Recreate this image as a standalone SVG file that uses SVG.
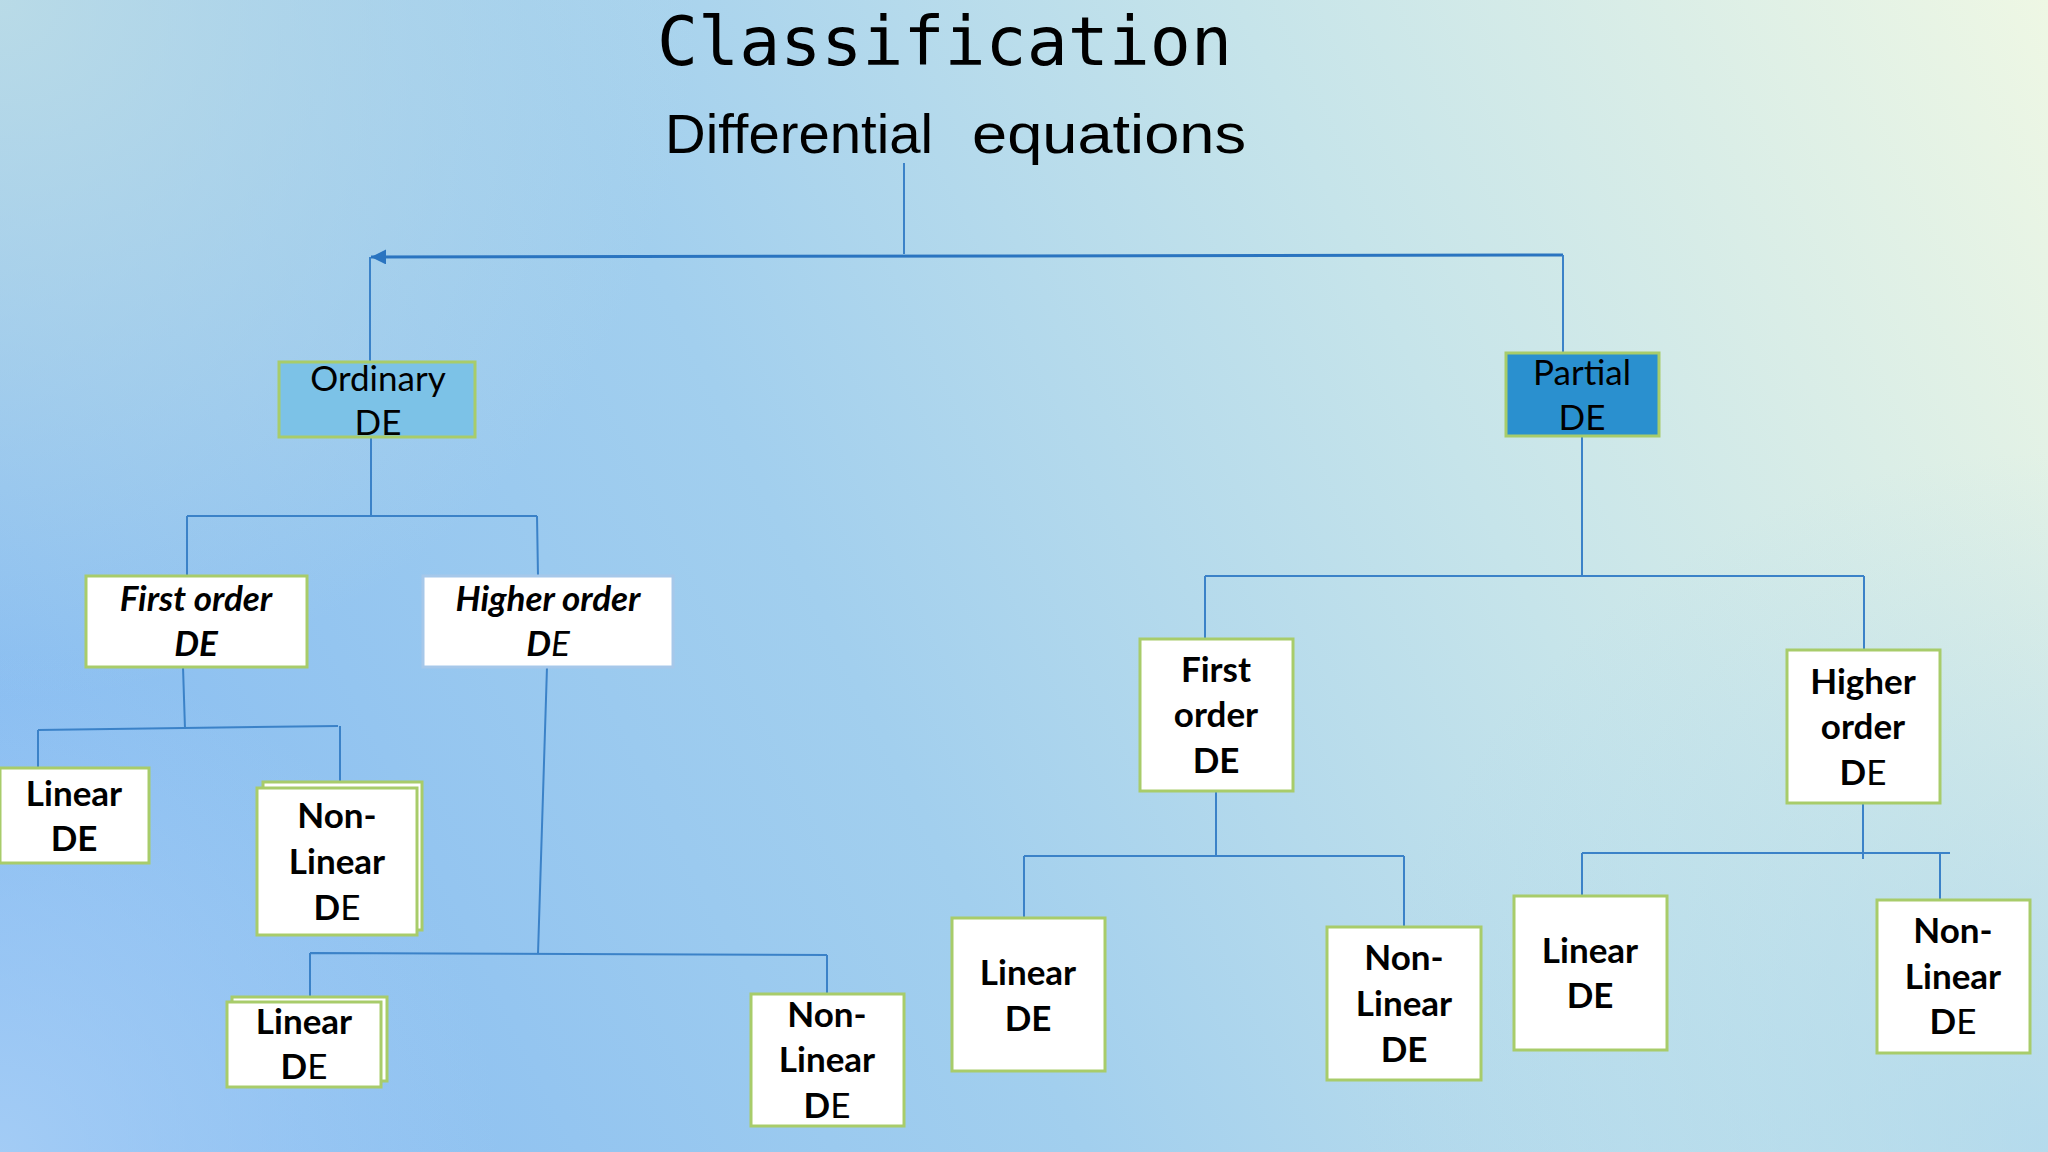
<svg xmlns="http://www.w3.org/2000/svg" width="2048" height="1152" viewBox="0 0 2048 1152">
<defs>
<linearGradient id="bg" gradientUnits="userSpaceOnUse" x1="0" y1="1000" x2="2048" y2="0">
<stop offset="0" stop-color="#86bbf2"/>
<stop offset="0.4" stop-color="#a2cfee"/>
<stop offset="0.68" stop-color="#c6e4ea"/>
<stop offset="1" stop-color="#eef7e4"/>
</linearGradient>
<radialGradient id="tl" gradientUnits="userSpaceOnUse" cx="0" cy="0" r="700">
<stop offset="0" stop-color="#bddde6" stop-opacity="0.9"/>
<stop offset="1" stop-color="#bddde6" stop-opacity="0"/>
</radialGradient>
<radialGradient id="bl" gradientUnits="userSpaceOnUse" cx="0" cy="1152" r="500">
<stop offset="0" stop-color="#aad0f6" stop-opacity="0.8"/>
<stop offset="1" stop-color="#aad0f6" stop-opacity="0"/>
</radialGradient>
<radialGradient id="br" gradientUnits="userSpaceOnUse" cx="2048" cy="1152" r="700">
<stop offset="0" stop-color="#a8d4ee" stop-opacity="0.7"/>
<stop offset="1" stop-color="#a8d4ee" stop-opacity="0"/>
</radialGradient>
<marker id="arr" viewBox="0 0 10 10" refX="10" refY="5" markerWidth="5" markerHeight="5" orient="auto" markerUnits="strokeWidth">
<path d="M0,0 L10,5 L0,10 z" fill="#2a74c0"/>
</marker>
</defs>
<style>
.c{fill:none;stroke:#3b82c8;stroke-width:2}
.top{fill:none;stroke:#2a74c0;stroke-width:3}
.box{fill:#ffffff;stroke:#a8cc6a;stroke-width:3}
.boxb{fill:#ffffff;stroke:#a6c8ea;stroke-width:3}
.t{font-family:Lato,"Open Sans",sans-serif;font-size:35px;font-weight:700;fill:#000;text-anchor:middle}
.i{font-style:italic}
.n{font-weight:400}
.title{font-family:"DejaVu Sans Mono","Liberation Mono",monospace;font-size:68px;fill:#000}
.sub{font-family:"Liberation Sans",Arial,sans-serif;font-size:56px;fill:#000}
</style>
<rect x="0" y="0" width="2048" height="1152" fill="url(#bg)"/>
<rect x="0" y="0" width="2048" height="1152" fill="url(#tl)"/>
<rect x="0" y="0" width="2048" height="1152" fill="url(#bl)"/>
<rect x="0" y="0" width="2048" height="1152" fill="url(#br)"/>

<g id="title">
<text class="title" x="657" y="65" textLength="575" lengthAdjust="spacingAndGlyphs">Classification</text>
<text class="sub" x="665" y="153" textLength="268" lengthAdjust="spacingAndGlyphs">Differential</text>
<text class="sub" x="972" y="153" textLength="274" lengthAdjust="spacingAndGlyphs">equations</text>
</g>

<g id="connectors">
<path class="c" d="M904,163 V254"/>
<path class="top" d="M1563,255 L371,257" marker-end="url(#arr)"/>
<path class="c" d="M370,257 V362"/>
<path class="c" d="M1563,255 V353"/>
<path class="c" d="M371,437 V516 M187,516 H537 M187,516 V576 M537,516 L538,576"/>
<path class="c" d="M183,667 L185,729 M38,730 L338,726 M38,730 V768 M340,726 V784"/>
<path class="c" d="M547,667 L538,954 M310,953 L827,955 M310,953 V998 M827,955 V994"/>
<path class="c" d="M1582,436 V576 M1205,576 H1864 M1205,576 V639 M1864,576 V650"/>
<path class="c" d="M1216,791 V856 M1024,856 H1404 M1024,856 V918 M1404,856 V927"/>
<path class="c" d="M1863,803 V859 M1582,853 H1950 M1582,853 V896 M1940,853 V900"/>
</g>

<g id="ordinary">
<rect x="279" y="362" width="196" height="75" fill="#7cc2e7" stroke="#a8cc6a" stroke-width="3"/>
<text class="t n" x="378" y="391">Ordinary</text>
<text class="t n" x="378" y="435">DE</text>
</g>

<g id="partial">
<rect x="1506" y="353" width="153" height="83" fill="#2a90cf" stroke="#a8cc6a" stroke-width="3"/>
<text class="t n" x="1582" y="385">Partial</text>
<text class="t n" x="1582" y="430">DE</text>
</g>

<g id="ode-first">
<rect class="box" x="86" y="576" width="221" height="91"/>
<text class="t i" x="196" y="611">First order</text>
<text class="t i" x="196" y="656">DE</text>
</g>

<g id="ode-higher">
<rect class="boxb" x="423" y="576" width="250" height="91"/>
<text class="t i" x="548" y="611">Higher order</text>
<text class="t i" x="548" y="656">D<tspan class="n">E</tspan></text>
</g>

<g id="ode-first-linear">
<rect class="box" x="0" y="768" width="149" height="95"/>
<text class="t" x="74" y="806">Linear</text>
<text class="t" x="74" y="851">DE</text>
</g>

<g id="ode-first-nonlinear">
<rect class="box" x="263" y="782" width="159" height="148"/>
<rect class="box" x="257" y="788" width="160" height="147"/>
<text class="t" x="337" y="828">Non-</text>
<text class="t" x="337" y="874">Linear</text>
<text class="t" x="337" y="920">D<tspan class="n">E</tspan></text>
</g>

<g id="ode-higher-linear">
<rect class="box" x="232" y="997" width="155" height="84"/>
<rect class="box" x="227" y="1002" width="154" height="85"/>
<text class="t" x="304" y="1034">Linear</text>
<text class="t" x="304" y="1079">D<tspan class="n">E</tspan></text>
</g>

<g id="ode-higher-nonlinear">
<rect class="box" x="751" y="994" width="153" height="132"/>
<text class="t" x="827" y="1027">Non-</text>
<text class="t" x="827" y="1072">Linear</text>
<text class="t" x="827" y="1118">D<tspan class="n">E</tspan></text>
</g>

<g id="pde-first">
<rect class="box" x="1140" y="639" width="153" height="152"/>
<text class="t" x="1216" y="682">First</text>
<text class="t" x="1216" y="727">order</text>
<text class="t" x="1216" y="773">DE</text>
</g>

<g id="pde-higher">
<rect class="box" x="1787" y="650" width="153" height="153"/>
<text class="t" x="1863" y="694">Higher</text>
<text class="t" x="1863" y="739">order</text>
<text class="t" x="1863" y="785">D<tspan class="n">E</tspan></text>
</g>

<g id="pde-first-linear">
<rect class="box" x="952" y="918" width="153" height="153"/>
<text class="t" x="1028" y="985">Linear</text>
<text class="t" x="1028" y="1031">DE</text>
</g>

<g id="pde-first-nonlinear">
<rect class="box" x="1327" y="927" width="154" height="153"/>
<text class="t" x="1404" y="970">Non-</text>
<text class="t" x="1404" y="1016">Linear</text>
<text class="t" x="1404" y="1062">DE</text>
</g>

<g id="pde-higher-linear">
<rect class="box" x="1514" y="896" width="153" height="154"/>
<text class="t" x="1590" y="963">Linear</text>
<text class="t" x="1590" y="1008">DE</text>
</g>

<g id="pde-higher-nonlinear">
<rect class="box" x="1877" y="900" width="153" height="153"/>
<text class="t" x="1953" y="943">Non-</text>
<text class="t" x="1953" y="989">Linear</text>
<text class="t" x="1953" y="1034">D<tspan class="n">E</tspan></text>
</g>
</svg>
